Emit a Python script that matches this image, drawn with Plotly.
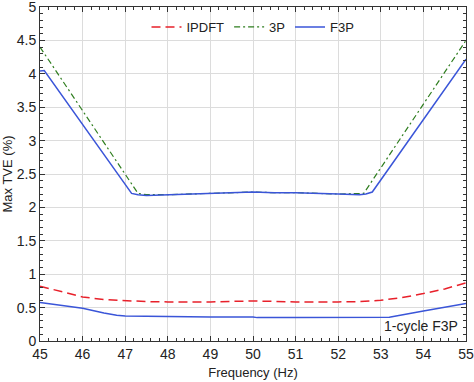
import plotly.graph_objects as go

freq_ipdft = [45, 45.5, 46, 46.5, 47, 47.5, 48, 49, 50, 51, 52, 52.5, 53, 53.5, 54, 54.5, 55]
tve_ipdft = [0.82, 0.74, 0.66, 0.62, 0.60, 0.59, 0.585, 0.585, 0.60, 0.585, 0.585, 0.59, 0.61, 0.65, 0.71, 0.78, 0.87]

freq_3p = [45, 47.3, 47.5, 48, 49, 49.8, 50, 50.5, 51, 52, 52.5, 52.6, 55]
tve_3p = [4.4, 2.21, 2.19, 2.19, 2.21, 2.23, 2.23, 2.22, 2.22, 2.2, 2.2, 2.21, 4.5]

freq_f3p = [45, 45.1, 47.15, 47.3, 47.5, 48, 49, 49.8, 50, 50.5, 51, 52, 52.5, 52.65, 52.8, 55]
tve_f3p = [4.04, 4.05, 2.21, 2.19, 2.18, 2.19, 2.21, 2.22, 2.23, 2.22, 2.22, 2.2, 2.19, 2.2, 2.23, 4.22]

freq_f3p1 = [45, 45.5, 46, 46.5, 46.8, 47, 48, 49, 50, 50.1, 51, 52, 53, 53.2, 54, 55]
tve_f3p1 = [0.575, 0.53, 0.49, 0.42, 0.385, 0.375, 0.365, 0.36, 0.36, 0.35, 0.35, 0.35, 0.35, 0.355, 0.45, 0.56]

FONT = "Liberation Sans, Arial"

fig = go.Figure()
fig.add_trace(go.Scatter(x=freq_ipdft, y=tve_ipdft, mode="lines", name="IPDFT",
                         line=dict(color="#e8202a", width=1.5, dash="9px,5px")))
fig.add_trace(go.Scatter(x=freq_3p, y=tve_3p, mode="lines", name="3P",
                         line=dict(color="#2e7d1e", width=1.2, dash="6px,3px,2px,3px")))
fig.add_trace(go.Scatter(x=freq_f3p, y=tve_f3p, mode="lines", name="F3P",
                         line=dict(color="#3a55d8", width=1.5)))
fig.add_trace(go.Scatter(x=freq_f3p1, y=tve_f3p1, mode="lines", name="F3P 1-cycle",
                         showlegend=False, line=dict(color="#3a55d8", width=1.5)))

axis_common = dict(showline=True, linecolor="#333", linewidth=1, mirror="ticks",
                   ticks="inside", ticklen=5, tickcolor="#333",
                   showgrid=True, gridcolor="#dcdcdc", gridwidth=1, zeroline=False,
                   ticklabeloverflow="allow",
                   tickfont=dict(family=FONT, size=14, color="#222"),
                   title_font=dict(family=FONT, size=13, color="#222"))

fig.update_xaxes(range=[45, 55], dtick=1, title_text="Frequency (Hz)", title_standoff=7,
                 minor=dict(ticks="inside", ticklen=3, dtick=0.2, tickcolor="#333", showgrid=False),
                 **axis_common)
fig.update_yaxes(range=[0, 5], dtick=0.5, title_text="Max TVE (%)", title_standoff=4,
                 minor=dict(ticks="inside", ticklen=3, dtick=0.1, tickcolor="#333", showgrid=False),
                 **axis_common)

fig.add_annotation(x=0.985, y=0.015, xref="paper", yref="paper", xanchor="right", yanchor="bottom",
                   text="1-cycle F3P", showarrow=False,
                   font=dict(family=FONT, size=14, color="#222"))

fig.update_layout(
    width=474, height=382,
    margin=dict(l=40, r=8, t=7, b=41, autoexpand=False),
    plot_bgcolor="white", paper_bgcolor="white",
    legend=dict(orientation="h", x=0.5, xanchor="center", y=0.985, yanchor="top",
                bgcolor="rgba(255,255,255,0)", font=dict(family=FONT, size=13, color="#222"),
                itemwidth=30, tracegroupgap=0),
)

fig.write_html("out.html", config={"displayModeBar": False},
               post_script="document.body.style.margin='0';")
